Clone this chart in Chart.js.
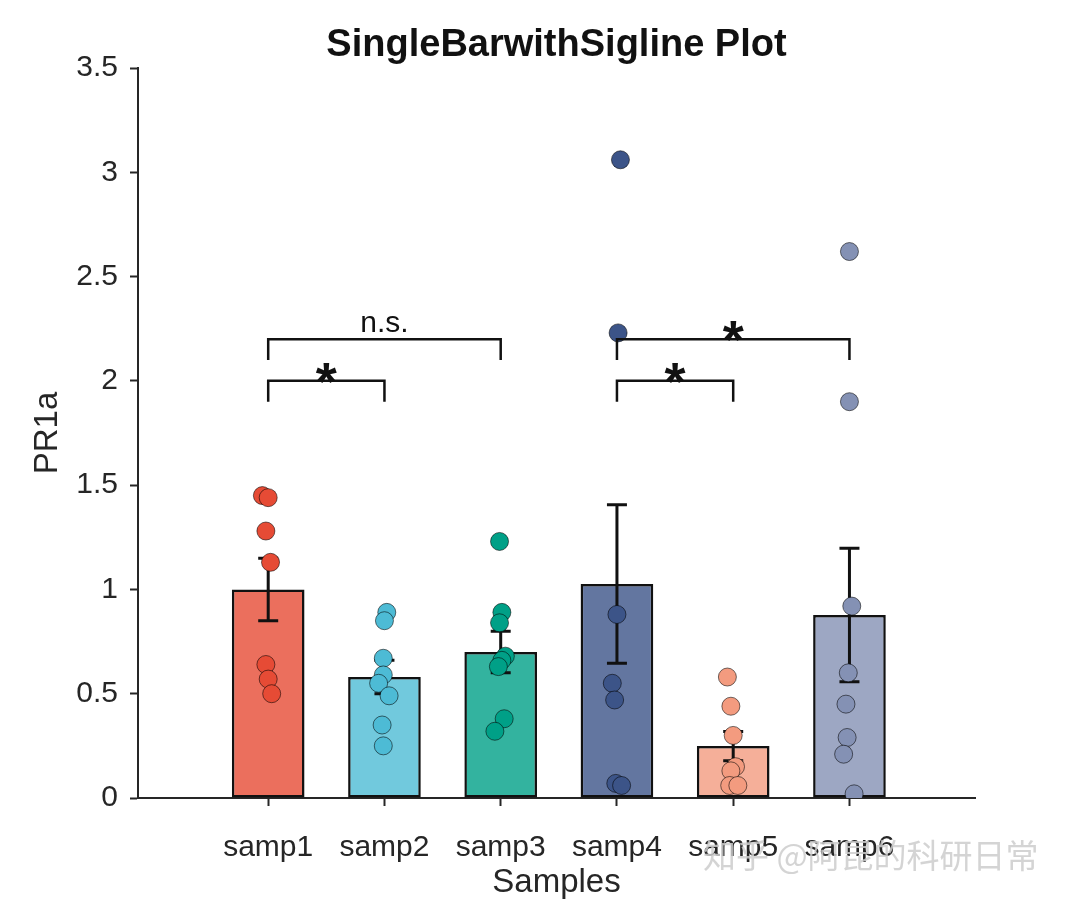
<!DOCTYPE html>
<html>
<head>
<meta charset="utf-8">
<script src="https://cdn.jsdelivr.net/npm/chart.js@4/dist/chart.umd.min.js"></script>
<style>
  body { margin: 0; background: #fff; }
</style>
</head>
<body>
<canvas id="myChart" width="1080" height="899"></canvas>
<script>
// categories and bar heights (mean) with error (sem)
var samples = ['samp1', 'samp2', 'samp3', 'samp4', 'samp5', 'samp6'];
var means = [1.00, 0.58, 0.70, 1.026, 0.249, 0.877];
var sems = [0.15, 0.08, 0.10, 0.38, 0.07, 0.32];

// single points for each sample
var samp1 = [1.45, 1.44, 1.28, 1.13, 0.64, 0.57, 0.50];
var samp2 = [0.89, 0.85, 0.67, 0.59, 0.55, 0.49, 0.35, 0.25];
var samp3 = [1.23, 0.89, 0.84, 0.68, 0.66, 0.63, 0.38, 0.32];
var samp4 = [3.06, 2.23, 0.88, 0.55, 0.47, 0.07, 0.06];
var samp5 = [0.58, 0.44, 0.30, 0.15, 0.13, 0.06, 0.06];
var samp6 = [2.62, 1.90, 0.92, 0.60, 0.45, 0.29, 0.21, 0.02];
// horizontal scatter of the points (in category units)
var jit1 = [-0.05, 0, -0.02, 0.02, -0.02, 0, 0.03];
var jit2 = [0.02, 0, -0.01, -0.01, -0.05, 0.04, -0.02, -0.01];
var jit3 = [-0.01, 0.01, -0.01, 0.04, 0.01, -0.02, 0.03, -0.05];
var jit4 = [0.03, 0.01, 0, -0.04, -0.02, -0.01, 0.04];
var jit5 = [-0.05, -0.02, 0, 0.02, -0.02, -0.03, 0.04];
var jit6 = [0, 0, 0.02, -0.01, -0.03, -0.02, -0.05, 0.04];

// significance lines
var sigPairs = [[1, 2], [1, 3], [4, 5], [4, 6]];
var sigHeights = [2.0, 2.2, 2.0, 2.2];
var sigLabels = ['*', 'n.s.', '*', '*'];
var legDrop = 0.1;

var yTicks = [0, 0.5, 1, 1.5, 2, 2.5, 3, 3.5];
var titleText = 'SingleBarwithSigline Plot';

var colors = ['#E64B35', '#4DBBD5', '#00A087', '#3C5488', '#F39B7F', '#8491B4'];
var barColors = ['rgba(230,75,53,0.8)', 'rgba(77,187,213,0.8)', 'rgba(0,160,135,0.8)',
                 'rgba(60,84,136,0.8)', 'rgba(243,155,127,0.8)', 'rgba(132,145,180,0.8)'];
var textColor = '#262626';
var fontFam = '"Liberation Sans", Arial, sans-serif';

var points = [samp1, samp2, samp3, samp4, samp5, samp6];
var jits = [jit1, jit2, jit3, jit4, jit5, jit6];

var datasets = [];
datasets.push({
  type: 'bar',
  data: means.map(function (m, i) { return { x: i + 1, y: m }; }),
  backgroundColor: barColors,
  borderColor: '#111',
  borderWidth: 2.5,
  borderSkipped: false,
  categoryPercentage: 1,
  barPercentage: 0.625,
  order: 10
});
points.forEach(function (vals, i) {
  datasets.push({
    type: 'scatter',
    data: vals.map(function (v, k) { return { x: i + 1 + jits[i][k], y: v }; }),
    backgroundColor: colors[i],
    borderColor: 'rgba(0,0,0,0.55)',
    borderWidth: 1,
    pointRadius: 9,
    order: 2
  });
});
sigPairs.forEach(function (p, i) {
  var h = sigHeights[i];
  datasets.push({
    type: 'line',
    data: [{ x: p[0], y: h - legDrop }, { x: p[0], y: h }, { x: p[1], y: h }, { x: p[1], y: h - legDrop }],
    borderColor: '#111',
    borderWidth: 2.5,
    pointRadius: 0,
    fill: false,
    tension: 0,
    order: 1
  });
});

var extras = {
  id: 'extras',
  afterDatasetDraw: function (chart, args) {
    if (args.index !== 0) return;
    var ctx = chart.ctx, xs = chart.scales.x, ys = chart.scales.y;
    ctx.save();
    ctx.strokeStyle = '#111';
    ctx.lineWidth = 3;
    means.forEach(function (m, i) {
      var x = xs.getPixelForValue(i + 1);
      var top = ys.getPixelForValue(m + sems[i]);
      var bot = ys.getPixelForValue(m - sems[i]);
      ctx.beginPath();
      ctx.moveTo(x, top); ctx.lineTo(x, bot);
      ctx.moveTo(x - 10, top); ctx.lineTo(x + 10, top);
      ctx.moveTo(x - 10, bot); ctx.lineTo(x + 10, bot);
      ctx.stroke();
    });
    ctx.restore();
  },
  afterDraw: function (chart) {
    var ctx = chart.ctx, xs = chart.scales.x, ys = chart.scales.y;
    var area = chart.chartArea;
    ctx.save();
    // title centred over the axes
    ctx.fillStyle = '#111';
    ctx.textAlign = 'center';
    ctx.textBaseline = 'middle';
    ctx.font = 'bold 38px ' + fontFam;
    ctx.fillText(titleText, (area.left + area.right) / 2, 46);

    ctx.textBaseline = 'alphabetic';
    sigPairs.forEach(function (p, i) {
      var x = xs.getPixelForValue((p[0] + p[1]) / 2);
      var y = ys.getPixelForValue(sigHeights[i]);
      if (sigLabels[i] === '*') {
        ctx.font = 'bold 54px ' + fontFam;
        ctx.fillText('*', x, y - 12 + 0.57 * 54);
      } else {
        ctx.font = '30px ' + fontFam;
        ctx.fillText(sigLabels[i], x, y - 7);
      }
    });
    // watermark
    ctx.font = '33px "Noto Sans CJK SC", sans-serif';
    ctx.textAlign = 'left';
    ctx.textBaseline = 'middle';
    ctx.fillStyle = 'rgba(205,205,205,0.85)';
    ctx.fillText('知乎 @阿昆的科研日常', 703, 855);
    ctx.restore();
  }
};

var ctx = document.getElementById('myChart');
var myChart = new Chart(ctx, {
  type: 'bar',
  data: { datasets: datasets },
  options: {
    responsive: false,
    animation: false,
    layout: { padding: { left: 0, right: 105, top: 68, bottom: 0 } },
    plugins: {
      legend: { display: false },
      tooltip: { enabled: false },
      title: { display: false }
    },
    scales: {
      x: {
        type: 'linear',
        min: -0.12,
        max: 7.08,
        offset: false,
        afterBuildTicks: function (scale) {
          scale.ticks = samples.map(function (s, i) { return { value: i + 1 }; });
        },
        afterFit: function (scale) { scale.height = 101; },
        ticks: {
          color: textColor,
          padding: 24,
          font: { family: fontFam, size: 30 },
          callback: function (v) { return samples[v - 1]; }
        },
        grid: { offset: false, drawOnChartArea: false, drawTicks: true, tickLength: 8, tickWidth: 2, color: textColor },
        border: { display: true, color: textColor, width: 2 },
        title: {
          display: true,
          text: 'Samples',
          color: textColor,
          font: { family: fontFam, size: 33, lineHeight: 1 },
          padding: { top: 0, bottom: 0 }
        }
      },
      y: {
        min: 0,
        max: 3.5,
        afterBuildTicks: function (scale) {
          scale.ticks = yTicks.map(function (v) { return { value: v }; });
        },
        afterFit: function (scale) { scale.width = 138; },
        ticks: {
          color: textColor,
          padding: 12,
          font: { family: fontFam, size: 30 },
          callback: function (v) { return String(v); }
        },
        grid: { drawOnChartArea: false, drawTicks: true, tickLength: 8, tickWidth: 2, color: textColor },
        border: { display: true, color: textColor, width: 2 },
        title: {
          display: true,
          text: 'PR1a',
          color: textColor,
          font: { family: fontFam, size: 33 },
          padding: { top: 28, bottom: 0 }
        }
      }
    }
  },
  plugins: [extras]
});
</script>
</body>
</html>
